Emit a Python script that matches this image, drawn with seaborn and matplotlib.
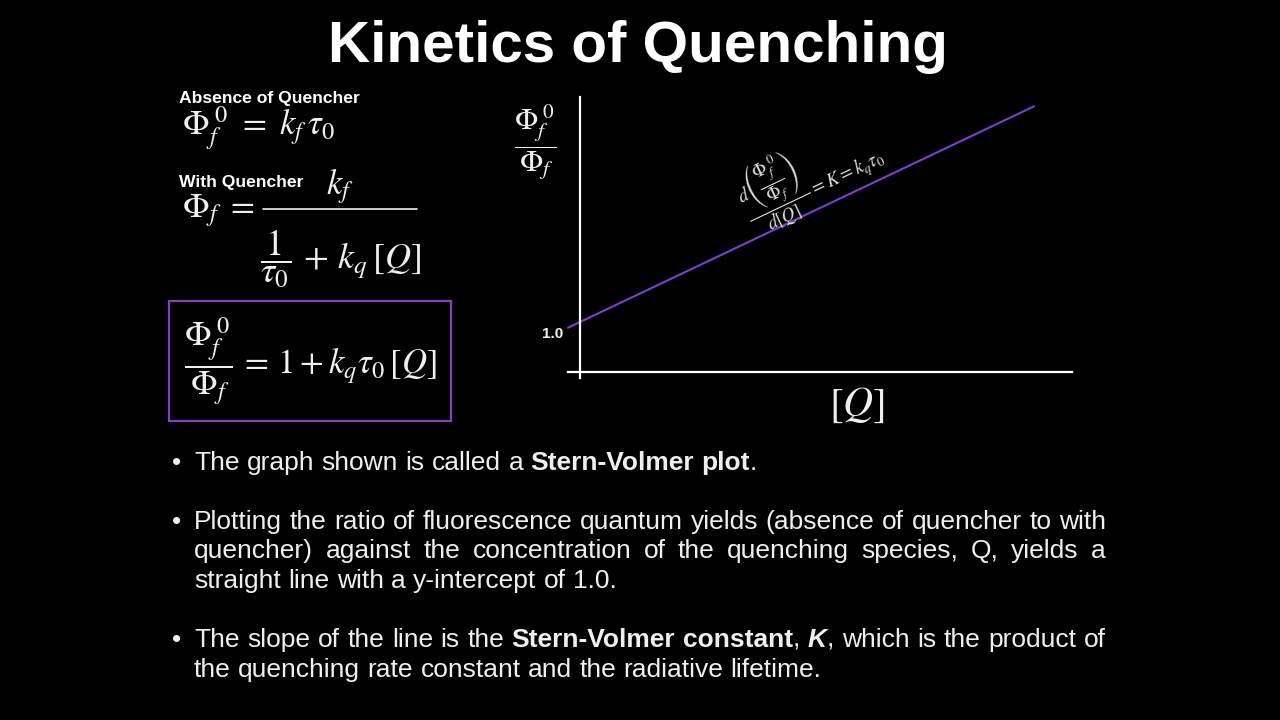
import matplotlib
matplotlib.use("Agg")
import matplotlib.pyplot as plt
import matplotlib.transforms as mtransforms
from matplotlib.patches import Rectangle
from matplotlib.lines import Line2D
import seaborn as sns

# Stern-Volmer line: [Q] (arbitrary units) vs Phi0/Phi
q_conc = [-0.12, 0.0, 1.0, 2.0, 3.0, 4.0, 4.54]
ratio = [0.94, 1.0, 1.5, 2.0, 2.5, 3.0, 3.27]
ytick_vals = [1.0]
ytick_labels = ["1.0"]

title = "Kinetics of Quenching"
bullets = [
    [[("The graph shown is called a ", "r"), ("Stern-Volmer plot", "b"), (".", "r")]],
    [[("Plotting the ratio of fluorescence quantum yields (absence of quencher to with", "r")],
     [("quencher) against the concentration of the quenching species, Q, yields a", "r")],
     [("straight line with a y-intercept of 1.0.", "r")]],
    [[("The slope of the line is the ", "r"), ("Stern-Volmer constant", "b"), (", ", "r"),
      ("K", "bi"), (", which is the product of", "r")],
     [("the quenching rate constant and the radiative lifetime.", "r")]],
]
justify = [[False], [True, True, False], [True, False]]

PURPLE = "#7b3fd2"
BOX = "#7f42c4"
FG = "#efefef"
W, H = 1280, 720

sns.set_theme(style="dark")
plt.rcParams["font.family"] = ["Liberation Sans", "DejaVu Sans"]
plt.rcParams["mathtext.fontset"] = "stix"

fig = plt.figure(figsize=(12.8, 7.2), dpi=100, facecolor="black")


def px(x, y):
    return x / W, 1 - y / H


# ---- chart ----
ax = fig.add_axes([560 / W, 1 - 385 / H, 520 / W, 295 / H])
ax.set_facecolor("black")
sns.lineplot(x=q_conc, y=ratio, color=PURPLE, lw=1.5, ax=ax)
ax.set_xlim(-0.2, 5.0)
ax.set_ylim(0.337, 3.442)
ax.grid(False)
for side in ["top", "right"]:
    ax.spines[side].set_visible(False)
ax.spines["left"].set_position(("data", 0))
ax.spines["left"].set_bounds(0.41, 3.37)
ax.spines["bottom"].set_position(("data", 0.474))
ax.spines["bottom"].set_bounds(-0.12, 4.92)
for side in ["left", "bottom"]:
    ax.spines[side].set_color("white")
    ax.spines[side].set_linewidth(1.6)
ax.set_xticks([])
ax.set_yticks(ytick_vals, labels=ytick_labels)
ax.tick_params(axis="y", length=0, pad=12, labelcolor=FG, labelsize=11)
for t in ax.yaxis.get_major_ticks():
    t.label1.set_fontweight("bold")
    t.label1.set_transform(t.label1.get_transform()
                           + mtransforms.ScaledTranslation(0, -0.10, fig.dpi_scale_trans))

ax.set_xlabel("$[Q]$", color=FG, fontsize=30)
ax.xaxis.set_label_coords((857 - 560) / 520, (385 - 405) / 295)
ax.xaxis.label.set_va("center")
ax.set_ylabel(r"$\dfrac{\Phi_f^{\ 0}}{\Phi_f}$", color=FG, fontsize=22, rotation=0)
ax.yaxis.set_label_coords((535 - 560) / 520, (385 - 142) / 295)
ax.yaxis.label.set_va("center")
ax.yaxis.label.set_ha("center")

fig.text(*px(810, 176),
         r"$\dfrac{d\left(\dfrac{\Phi_f^{\ 0}}{\Phi_f}\right)}{d[Q]} = K = k_q\tau_0$",
         color="#dddddd", fontsize=13.5, rotation=25.5, ha="center", va="center",
         rotation_mode="anchor")

# ---- title ----
fig.text(*px(638, 47), title, color="white", fontsize=42, fontweight="bold",
         ha="center", va="center")

# ---- left equations ----
fig.text(*px(179, 99), "Absence of Quencher", color="white", fontsize=12.6,
         fontweight="bold", ha="left", va="center")
fig.text(*px(182, 128), r"$\Phi_f^{\ 0}\ =\ k_f\,\tau_0$", color=FG, fontsize=25,
         ha="left", va="center")
fig.text(*px(179, 183), "With Quencher", color="white", fontsize=12.6,
         fontweight="bold", ha="left", va="center")
fig.text(*px(182, 217), r"$\Phi_f\ =$", color=FG, fontsize=25, ha="left", va="baseline")
fig.text(*px(340, 194), r"$k_f$", color=FG, fontsize=25, ha="center", va="baseline")
fig.add_artist(Line2D([263 / W, 417 / W], [1 - 209 / H, 1 - 209 / H],
                      transform=fig.transFigure, color=FG, lw=1.2))
fig.text(*px(341, 258), r"$\dfrac{1}{\tau_0}\,+\,k_q\,[Q]$", color=FG, fontsize=26,
         ha="center", va="center")
fig.patches.append(Rectangle(px(169, 421), 282 / W, 120 / H, transform=fig.transFigure,
                             fill=False, edgecolor=BOX, lw=1.6))
fig.text(*px(184, 361), r"$\dfrac{\Phi_f^{\ 0}}{\Phi_f}\,=\,1 + k_q\tau_0\,[Q]$",
         color=FG, fontsize=25, ha="left", va="center")

# ---- bullet text ----
renderer = fig.canvas.get_renderer()
BODY = 19
STY = {"r": dict(fontweight="normal", fontstyle="normal"),
       "b": dict(fontweight="bold", fontstyle="normal"),
       "bi": dict(fontweight="bold", fontstyle="italic")}


def text_w(s, st, size):
    t = fig.text(0, 0, s, fontsize=size, **STY[st])
    w = t.get_window_extent(renderer).width
    t.remove()
    return w


def split_words(segs):
    words, cur = [], []
    for s, st in segs:
        for ch in s:
            if ch == " ":
                if cur:
                    words.append(cur)
                    cur = []
            elif cur and cur[-1][1] == st:
                cur[-1] = (cur[-1][0] + ch, st)
            else:
                cur.append((ch, st))
    if cur:
        words.append(cur)
    return words


def draw_line(segs, y, x0=194, x1=1106, just=False):
    words = split_words(segs)
    size = BODY
    while True:
        space_w = text_w("n n", "r", size) - text_w("nn", "r", size)
        widths = [[text_w(p, st, size) for p, st in w] for w in words]
        total = sum(sum(w) for w in widths)
        natural = total + space_w * (len(words) - 1)
        if natural <= x1 - x0 or size < 12:
            break
        size -= 0.25
    gap = space_w
    if just and len(words) > 1:
        gap = (x1 - x0 - total) / (len(words) - 1)
    x = x0
    for w, ws in zip(words, widths):
        for (p, st), pw in zip(w, ws):
            fig.text(x / W, 1 - (y + 8) / H, p, color=FG, fontsize=size,
                     ha="left", va="baseline", **STY[st])
            x += pw
        x += gap


line_y = [[462], [521, 550, 580], [639, 669]]
for segs_list, ys, js in zip(bullets, line_y, justify):
    fig.text(172 / W, 1 - (ys[0] + 8) / H, "\u2022", color=FG, fontsize=BODY,
             ha="left", va="baseline")
    for segs, y, j in zip(segs_list, ys, js):
        draw_line(segs, y, just=j)

fig.savefig("out.png", dpi=100, facecolor="black")
